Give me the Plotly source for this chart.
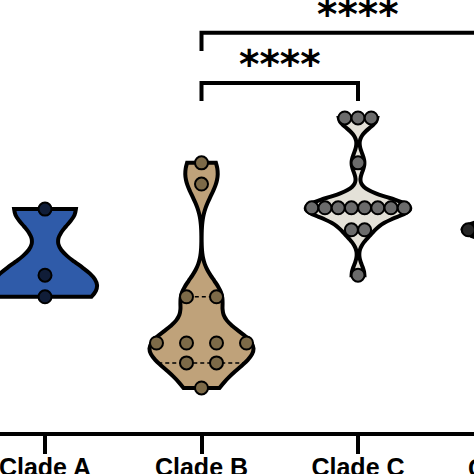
import numpy as np
import plotly.graph_objects as go

# ---------------- data ----------------
categories = ["Clade A", "Clade B", "Clade C", "Clade D"]
clade_a = [51.6, 36.3, 31.3]
clade_b = [62.3, 57.4, 31.3, 31.3, 20.6, 20.6, 20.6, 20.6, 16.0, 16.0, 10.2]
clade_c = [72.7, 72.7, 72.7, 62.3, 51.9, 51.9, 51.9, 51.9, 51.9, 51.9, 51.9, 51.9,
           46.8, 46.8, 36.3]
clade_d = [58.0, 46.8, 46.8, 46.8, 46.8, 46.8, 46.8, 46.8, 46.8, 38.0]
comparisons = [("Clade B", "Clade C", "****"), ("Clade B", "Clade D", "****")]

series = [clade_a, clade_b, clade_c, clade_d]

# ---------------- style ----------------
fill_colors = ["#2f5ba9", "#bfa27a", "#e4e1d8", "#4a4a4a"]
point_colors = ["#101d38", "#7d6a48", "#6b6b6b", "#262626"]
bandwidths = [4.3, 4.0, 2.3, 2.3]
PX_PER_X = 156.5          # px per category step
point_spacing_px = [15, 30, 13.2, 13.2]
VIOLIN_WIDTH = 0.665
X_RANGE = [-45 / PX_PER_X, (474 - 45) / PX_PER_X]
FONT = "Liberation Sans, Arial, sans-serif"
STAR_FONT = "DejaVu Sans"

fig = go.Figure()


def kde_profile(vals, bw):
    vals = np.asarray(vals, float)
    lo, hi = vals.min(), vals.max()
    n = int(np.ceil((hi - lo) / (bw / 3)))
    grid = np.linspace(lo, hi, n + 1)
    k = lambda t: np.exp(-0.5 * ((t - vals) / bw) ** 2).sum()
    mx = max(k(t) for t in grid)
    return k, mx


def to_paper_x(x):
    return (x - X_RANGE[0]) / (X_RANGE[1] - X_RANGE[0])


for i, vals in enumerate(series):
    fig.add_trace(go.Violin(
        x0=i, y=vals, width=VIOLIN_WIDTH, bandwidth=bandwidths[i],
        spanmode="hard", scalemode="width", points=False,
        fillcolor=fill_colors[i], opacity=1,
        line=dict(color="black", width=4),
        hoverinfo="skip", name=categories[i]))

# quartile dashed lines
for i, vals in enumerate(series):
    k, mx = kde_profile(vals, bandwidths[i])
    qs = np.percentile(vals, [25, 75], method="weibull")
    for q in qs:
        hw = k(q) / mx * VIOLIN_WIDTH / 2
        fig.add_trace(go.Scatter(
            x=[i - hw, i + hw], y=[q, q], mode="lines",
            line=dict(color="black", width=1.5, dash="4px,3px"),
            hoverinfo="skip"))

# points (beeswarm rows of equal values)
for i, vals in enumerate(series):
    xs, ys = [], []
    for v in sorted(set(vals), reverse=True):
        n = vals.count(v)
        for j in range(n):
            xs.append(i + (j - (n - 1) / 2) * point_spacing_px[i] / PX_PER_X)
            ys.append(v)
    fig.add_trace(go.Scatter(
        x=xs, y=ys, mode="markers",
        marker=dict(size=13, color=point_colors[i],
                    line=dict(color="black", width=2)),
        hoverinfo="skip"))

# significance brackets
top = max(max(s) for s in series)
base_gap, step, drop = 8.1, 11.6, 4.2
for lvl, (a, b, txt) in enumerate(comparisons):
    xa, xb = categories.index(a), categories.index(b)
    yl = top + base_gap + lvl * step
    fig.add_shape(type="path", xref="x", yref="y",
                  path=f"M {xa},{yl - drop} L {xa},{yl} L {xb},{yl} L {xb},{yl - drop}",
                  line=dict(color="black", width=4))
    fig.add_annotation(x=to_paper_x((xa + xb) / 2), y=yl, xref="paper", yref="y",
                       text=txt, showarrow=False, xanchor="center",
                       yanchor="bottom", yshift=-6,
                       font=dict(family=STAR_FONT, size=39, color="black",
                                 weight="bold"))

# label for the last category (its tick lies past the visible range)
fig.add_annotation(x=to_paper_x(3), y=0, xref="paper", yref="paper",
                   text=categories[3], showarrow=False, xanchor="center",
                   yanchor="top", yshift=-20,
                   font=dict(family=FONT, size=25, color="black", weight="bold"))

fig.update_layout(
    width=474, height=474, margin=dict(l=0, r=0, t=0, b=42, pad=0),
    paper_bgcolor="white", plot_bgcolor="white", showlegend=False,
    violinmode="overlay",
    xaxis=dict(range=X_RANGE, type="linear", tickvals=[0, 1, 2],
               ticktext=categories[:3], showline=True, linewidth=4,
               linecolor="black", ticks="outside", ticklen=18, tickwidth=4,
               tickcolor="black", showgrid=False, zeroline=False,
               automargin=False, ticklabeloverflow="allow",
               ticklabelstandoff=-8,
               tickfont=dict(family=FONT, size=25, color="black", weight="bold")),
    yaxis=dict(range=[0, 100], visible=False, automargin=False),
)

fig.write_html("out.html", config={"displayModeBar": False},
               post_script="document.body.style.margin='0';"
                           "document.body.style.overflow='hidden';")
